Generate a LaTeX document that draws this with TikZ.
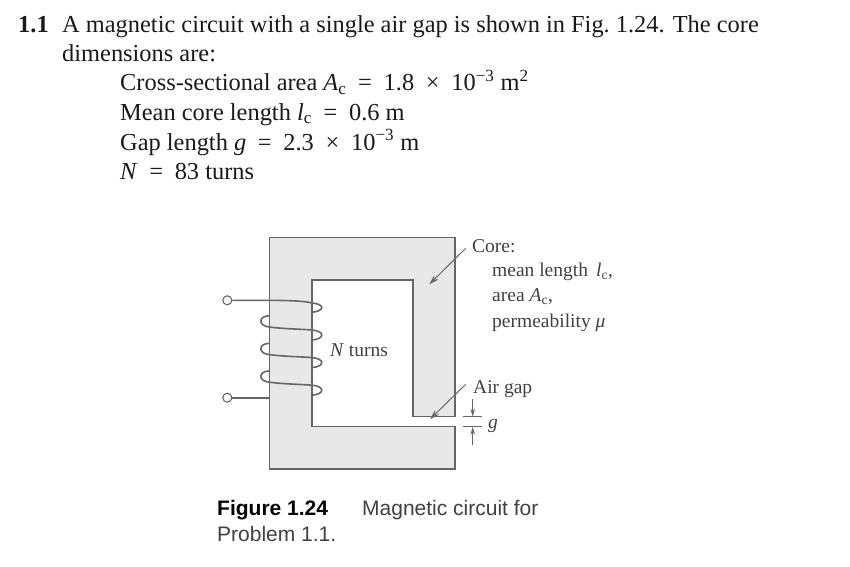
\documentclass[tikz,border=0pt]{standalone}
\usepackage{fontspec}
\setmainfont{Liberation Serif}
\newfontfamily\capfont{Liberation Sans}
\usetikzlibrary{arrows.meta}
\definecolor{coreline}{gray}{0.4}
\definecolor{corefill}{gray}{0.91}
\definecolor{labeltext}{gray}{0.25}
\newcommand{\eqsp}{\hspace{0.48em}}
\tikzset{
	problemtext/.style = {anchor = base west, inner sep = 0, font = \fontsize{24.4}{24.4}\selectfont, text = black!90},
	figlabel/.style = {anchor = base west, inner sep = 0, font = \fontsize{19.5}{19.5}\selectfont, text = labeltext},
	captext/.style = {anchor = base west, inner sep = 0, font = \capfont\fontsize{21}{21}\selectfont, text = labeltext},
	wire/.style = {coreline, line width = 1.6pt},
	terminal/.style = {draw = coreline, fill = white, circle, inner sep = 0, minimum size = 9pt, line width = 1.1pt},
	pointer/.style = {coreline, line width = 1pt, -{Stealth[length = 10pt, width = 6pt]}},
	gaparrow/.style = {coreline, line width = 0.9pt, -{Stealth[length = 8pt, width = 4.5pt]}}
}
\begin{document}
\begin{tikzpicture}[x = 1pt, y = -1pt]
	\useasboundingbox (0, 0) rectangle (850, 566);
	% problem statement
	\node [problemtext] (num) at (18, 32) {\textbf{1.1}};
	\node [problemtext] (line1) at (62, 32) {A magnetic circuit with a single air gap is shown in Fig.~1.24. The core};
	\node [problemtext] (line2) at (62, 61) {dimensions are:};
	\node [problemtext] (area) at (120, 90.7) {Cross-sectional area \textit{A}\textsubscript{c}\eqsp{}=\eqsp{}1.8\eqsp{}×\eqsp{}10\textsuperscript{−3} m\textsuperscript{2}};
	\node [problemtext] (mean) at (120, 120) {Mean core length \textit{l}\textsubscript{c}\eqsp{}=\eqsp{}0.6 m};
	\node [problemtext] (gap) at (120, 150) {Gap length \textit{g}\eqsp{}=\eqsp{}2.3\eqsp{}×\eqsp{}10\textsuperscript{−3} m};
	\node [problemtext] (turns) at (120, 179) {\textit{N}\eqsp{}=\eqsp{}83 turns};
	% core
	\draw [coreline, fill = corefill, line width = 1.3pt] (269.5, 237.7) -- (455, 237.7) -- (455, 416.7) -- (413, 416.7) -- (413, 280) -- (312, 280) -- (312, 426.7) -- (455, 426.7) -- (455, 469) -- (269.5, 469) -- cycle;
	% coil
	\node [terminal] (termtop) at (227.3, 300.3) {};
	\node [terminal] (termbot) at (227.3, 397.7) {};
	\coordinate (coilin) at (269.5, 300.3);
	\coordinate (coilout) at (269.5, 397.7);
	\draw [wire] (termbot) -- (coilout);
	\draw [wire] (termtop) -- (coilin) .. controls (290, 300.5) and (305, 301) .. (312, 303);
	\draw [wire] (312, 303) .. controls (325, 304) and (325, 311) .. (312, 312.3);
	\foreach \k in {0, 1, 2} {
		\begin{scope}[yshift = {-27.6pt * \k}]
			\draw [wire] (269.3, 315.7) .. controls (258, 316) and (258, 326) .. (269.3, 327) .. controls (285, 329) and (300, 329) .. (312, 330);
			\draw [wire] (312, 330) .. controls (325, 331) and (325, 339) .. (312, 340);
		\end{scope}
	}
	% pointers and gap
	\coordinate (coretail) at (465.7, 248.3);
	\coordinate (corehead) at (429.3, 284.3);
	\coordinate (gaptail) at (465.7, 384.3);
	\coordinate (gaphead) at (430, 419.3);
	\draw [pointer] (coretail) -- (corehead);
	\draw [pointer] (gaptail) -- (gaphead);
	\coordinate (ticktopl) at (463, 416.7);
	\coordinate (ticktopr) at (482, 416.7);
	\coordinate (tickbotl) at (463, 426.7);
	\coordinate (tickbotr) at (482, 426.7);
	\draw [coreline, line width = 0.9pt] (ticktopl) -- (ticktopr);
	\draw [coreline, line width = 0.9pt] (tickbotl) -- (tickbotr);
	\draw [gaparrow] (472.7, 399) -- (472.7, 416.7);
	\draw [gaparrow] (472.7, 445) -- (472.7, 426.7);
	% labels
	\node [figlabel] (nturns) at (330, 356) {\textit{N} turns};
	\node [figlabel] (core) at (472, 252) {Core:};
	\node [figlabel] (corelen) at (492, 276) {mean length\, \textit{l}\textsubscript{c},};
	\node [figlabel] (corearea) at (492, 301) {area \textit{A}\textsubscript{c},};
	\node [figlabel] (coreperm) at (492, 327) {permeability \textit{μ}};
	\node [figlabel] (airgap) at (473, 393) {Air gap};
	\node [figlabel] (gaplabel) at (488, 428) {\textit{g}};
	% caption
	\node [captext, text = black] (capfig) at (217, 515) {\textbf{Figure 1.24}};
	\node [captext] (capone) at (362, 515) {Magnetic circuit for};
	\node [captext] (captwo) at (217, 541.7) {Problem 1.1.};
\end{tikzpicture}
\end{document}
